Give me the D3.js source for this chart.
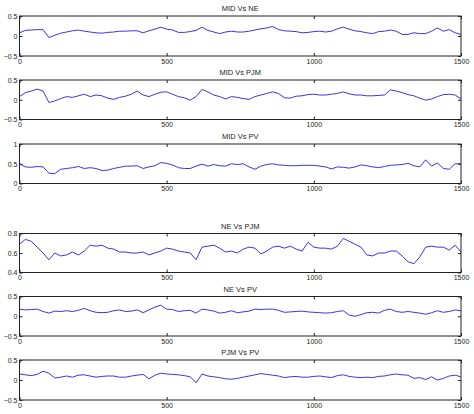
<!DOCTYPE html>
<html>
<head>
<meta charset="utf-8">
<script src="https://cdn.jsdelivr.net/npm/d3@7"></script>
<style>
  body { margin: 0; background: #fff; }
  text { font-family: "Liberation Sans", Arial, sans-serif; fill: #222; }
</style>
</head>
<body>
<div id="chart-area"></div>
<script>
const width = 474, height = 414;

// sample index (every 20 steps) shared by all panels
const steps = d3.range(0, 1501, 20);
const xTicks = [0, 500, 1000, 1500];

const titles = ["MID Vs NE", "MID Vs PJM", "MID Vs PV", "NE Vs PJM", "NE Vs PV", "PJM Vs PV"];
const yTicks = [[-0.5, 0, 0.5], [-0.5, 0, 0.5], [0, 0.5, 1], [0.4, 0.6, 0.8], [-0.5, 0, 0.5], [-0.5, 0, 0.5]];

const midNe = [0.08,0.14,0.15,0.16,0.16,-0.04,0.02,0.07,0.1,0.13,0.15,0.12,0.1,0.08,0.07,0.09,0.1,0.12,0.12,0.13,
  0.13,0.08,0.13,0.17,0.22,0.17,0.15,0.09,0.09,0.11,0.14,0.22,0.14,0.1,0.06,0.1,0.12,0.1,0.1,0.12,
  0.15,0.18,0.2,0.24,0.16,0.13,0.12,0.11,0.08,0.09,0.11,0.12,0.1,0.12,0.18,0.22,0.17,0.13,0.11,0.08,
  0.06,0.11,0.12,0.15,0.12,0.04,0.04,0.08,0.06,0.06,0.12,0.2,0.12,0.16,0.08,0.04];
const midPjm = [0.08,0.18,0.22,0.27,0.22,-0.07,-0.03,0.03,0.08,0.06,0.1,0.14,0.08,0.12,0.1,0.04,0.01,0.06,0.09,0.14,
  0.22,0.12,0.08,0.14,0.19,0.2,0.14,0.08,0.05,-0.01,0.08,0.26,0.2,0.12,0.08,0.02,0.08,0.06,0.03,0.01,
  0.08,0.12,0.16,0.2,0.16,0.05,0.04,0.09,0.1,0.13,0.14,0.12,0.12,0.14,0.16,0.2,0.15,0.12,0.12,0.1,
  0.1,0.11,0.12,0.25,0.22,0.18,0.13,0.1,0.04,-0.01,0.02,0.08,0.13,0.14,0.12,0.02];
const midPv = [0.5,0.42,0.41,0.43,0.42,0.26,0.25,0.36,0.38,0.4,0.43,0.38,0.4,0.38,0.33,0.34,0.38,0.41,0.44,0.44,
  0.45,0.38,0.42,0.45,0.53,0.51,0.47,0.4,0.38,0.38,0.44,0.49,0.44,0.48,0.45,0.44,0.5,0.48,0.5,0.42,
  0.36,0.44,0.48,0.5,0.47,0.46,0.45,0.45,0.46,0.46,0.46,0.44,0.42,0.37,0.42,0.41,0.39,0.42,0.47,0.45,
  0.42,0.4,0.43,0.46,0.47,0.48,0.51,0.45,0.42,0.6,0.44,0.52,0.38,0.36,0.5,0.5];
const nePjm = [0.69,0.74,0.72,0.66,0.6,0.53,0.6,0.57,0.58,0.61,0.58,0.62,0.68,0.67,0.68,0.65,0.64,0.61,0.61,0.6,
  0.6,0.61,0.58,0.6,0.62,0.65,0.64,0.62,0.61,0.6,0.53,0.66,0.67,0.68,0.65,0.61,0.62,0.6,0.64,0.66,
  0.65,0.59,0.62,0.66,0.67,0.65,0.67,0.64,0.62,0.71,0.66,0.65,0.65,0.64,0.67,0.75,0.72,0.69,0.66,0.58,
  0.57,0.6,0.6,0.62,0.62,0.57,0.51,0.49,0.56,0.66,0.67,0.66,0.66,0.63,0.68,0.61];
const nePv = [0.18,0.16,0.17,0.18,0.12,0.08,0.13,0.12,0.14,0.12,0.15,0.2,0.14,0.1,0.09,0.1,0.14,0.16,0.12,0.13,
  0.16,0.09,0.16,0.23,0.28,0.18,0.17,0.12,0.14,0.15,0.08,0.18,0.16,0.13,0.08,0.1,0.14,0.09,0.11,0.13,
  0.18,0.17,0.18,0.18,0.15,0.1,0.11,0.12,0.13,0.11,0.1,0.09,0.08,0.09,0.12,0.14,0.03,0.0,0.04,0.09,
  0.1,0.08,0.15,0.18,0.12,0.1,0.12,0.1,0.08,0.05,0.09,0.14,0.1,0.12,0.16,0.14];
const pjmPv = [0.15,0.13,0.11,0.14,0.22,0.17,0.05,0.07,0.1,0.07,0.12,0.13,0.1,0.07,0.09,0.1,0.1,0.07,0.07,0.1,
  0.12,0.14,0.03,0.12,0.17,0.15,0.14,0.13,0.11,0.08,-0.07,0.15,0.1,0.08,0.06,0.03,0.02,0.04,0.07,0.1,
  0.13,0.16,0.14,0.12,0.1,0.06,0.08,0.09,0.07,0.07,0.09,0.1,0.08,0.06,0.11,0.13,0.09,0.07,0.06,0.07,
  0.06,0.09,0.1,0.13,0.15,0.13,0.12,0.04,0.06,0.01,0.08,0.0,0.04,0.1,0.12,0.08];

const series = [midNe, midPjm, midPv, nePjm, nePv, pjmPv];

// axes boxes (top, bottom) for each panel
const boxes = [[16, 56], [80, 119.5], [144, 183.5], [233.5, 272.5], [296.5, 336], [360, 400]];
const left = 19.5, right = 461;

const svg = d3.select("#chart-area")
  .append("svg")
  .attr("width", width)
  .attr("height", height);

const x = d3.scaleLinear().domain([0, 1500]).range([left, right]);

series.forEach((vals, i) => {
  const [top, bottom] = boxes[i];
  const yt = yTicks[i];
  const y = d3.scaleLinear().domain([yt[0], yt[yt.length - 1]]).range([bottom, top]);
  const g = svg.append("g").attr("class", "panel");

  g.append("rect")
    .attr("x", left).attr("y", top)
    .attr("width", right - left).attr("height", bottom - top)
    .attr("fill", "#fff")
    .attr("stroke", "#222")
    .attr("stroke-width", 1);

  // inward ticks on all four sides, labels only left/bottom
  const bottomAxis = g.append("g").attr("transform", `translate(0,${bottom})`)
    .call(d3.axisBottom(x).tickValues(xTicks).tickSizeInner(-3).tickSizeOuter(0).tickPadding(5).tickFormat(d3.format("d")));
  const topAxis = g.append("g").attr("transform", `translate(0,${top})`)
    .call(d3.axisTop(x).tickValues(xTicks).tickSizeInner(-3).tickSizeOuter(0).tickFormat(""));
  const leftAxis = g.append("g").attr("transform", `translate(${left},0)`)
    .call(d3.axisLeft(y).tickValues(yt).tickSizeInner(-3).tickSizeOuter(0).tickPadding(5).tickFormat(d3.format("")));
  const rightAxis = g.append("g").attr("transform", `translate(${right},0)`)
    .call(d3.axisRight(y).tickValues(yt).tickSizeInner(-3).tickSizeOuter(0).tickFormat(""));

  [bottomAxis, topAxis, leftAxis, rightAxis].forEach(a => {
    a.select(".domain").remove();
    a.selectAll("line").attr("stroke", "#222");
    a.selectAll("text")
      .attr("font-size", "7px")
      .attr("font-family", "Liberation Sans, Arial, sans-serif")
      .attr("fill", "#222");
  });
  leftAxis.selectAll("text").attr("x", -2);
  bottomAxis.selectAll("text").attr("y", 3);

  g.append("path")
    .datum(vals)
    .attr("fill", "none")
    .attr("stroke", "#1f1fe0")
    .attr("stroke-width", 0.9)
    .attr("d", d3.line().x((d, j) => x(steps[j])).y(d => y(d)));

  g.append("text")
    .attr("x", (left + right) / 2)
    .attr("y", top - 5)
    .attr("text-anchor", "middle")
    .attr("font-size", "7.5px")
    .text(titles[i]);
});
</script>
</body>
</html>
